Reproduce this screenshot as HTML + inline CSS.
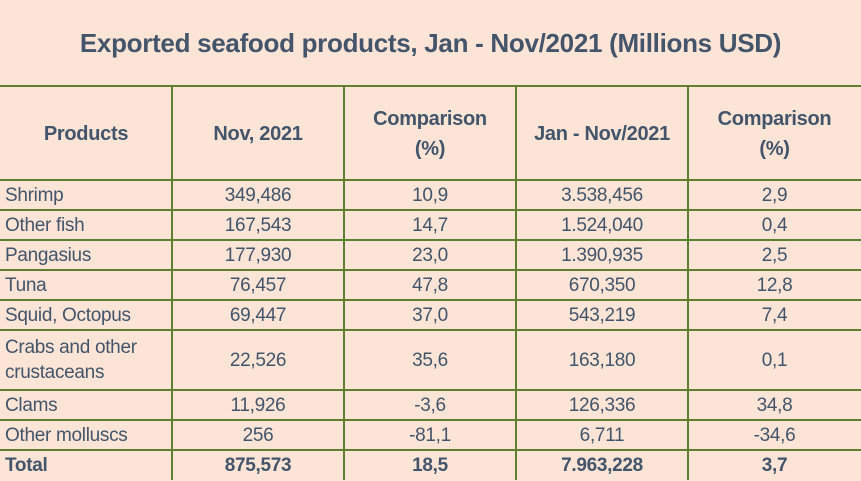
<!DOCTYPE html>
<html><head><meta charset="utf-8"><style>
body{margin:0;width:861px;height:480px;overflow:hidden;background:#fce4d6;font-family:"Liberation Sans",sans-serif;color:#44546a}
#t{position:absolute;left:0;top:0;width:861px;height:480px}
.c{position:absolute;box-sizing:border-box;display:flex;align-items:center;justify-content:center;text-align:center;font-size:19px;letter-spacing:-0.3px;line-height:1.3}
.l{justify-content:flex-start;padding-left:5px;text-align:left}
.b{font-weight:bold}
.hd{font-size:20px;line-height:1.5}
.h{position:absolute;left:0;width:861px;height:2px;background:#5f7f2f}
.v{position:absolute;top:86px;width:2px;height:394px;background:#5f7f2f}
</style></head><body>
<div id="t">
<div class="c b" style="left:0;top:0;width:861px;height:88px;font-size:26px">Exported seafood products, Jan - Nov/2021 (Millions USD)</div>
</div>
<script>
const products=["Shrimp","Other fish","Pangasius","Tuna","Squid, Octopus","Crabs and other crustaceans","Clams","Other molluscs","Total"];
const nov=["349,486","167,543","177,930","76,457","69,447","22,526","11,926","256","875,573"];
const novCmp=["10,9","14,7","23,0","47,8","37,0","35,6","-3,6","-81,1","18,5"];
const ytd=["3.538,456","1.524,040","1.390,935","670,350","543,219","163,180","126,336","6,711","7.963,228"];
const ytdCmp=["2,9","0,4","2,5","12,8","7,4","0,1","34,8","-34,6","3,7"];
const headers=["Products","Nov, 2021","Comparison<br>(%)","Jan - Nov/2021","Comparison<br>(%)"];
const t=document.getElementById('t');
const cols=[0,172,344,516,688,861];
const rowTops=[180,210,240,270,300,330,390,420,450,480];
function cell(x,y,w,h,html,cls,name){
 const d=document.createElement('div');
 d.className='c '+cls;
 d.style.cssText=`left:${x}px;top:${y}px;width:${w}px;height:${h}px`;
 d.innerHTML=html;
 
 
 t.appendChild(d);
}
headers.forEach((h,i)=>cell(cols[i],87,cols[i+1]-cols[i],93,h,'b hd','header-'+i));
const data=[products,nov,novCmp,ytd,ytdCmp];
products.forEach((p,r)=>{
 const y=rowTops[r],h=rowTops[r+1]-y;
 const bold=r===products.length-1?' b':'';
 data.forEach((arr,ci)=>{
  cell(cols[ci],y+1,cols[ci+1]-cols[ci],h,arr[r],(ci===0?'l':'')+bold,'cell-r'+r+'-c'+ci);
 });
});
[86,180].concat(rowTops.slice(1,-1)).forEach(y=>{
 const d=document.createElement('div');d.className='h';d.style.top=(y-1)+'px';
 
 
 t.appendChild(d);
});
cols.slice(1,-1).forEach(x=>{
 const d=document.createElement('div');d.className='v';d.style.left=(x-1)+'px';
 
 
 t.appendChild(d);
});
</script>
</body></html>
